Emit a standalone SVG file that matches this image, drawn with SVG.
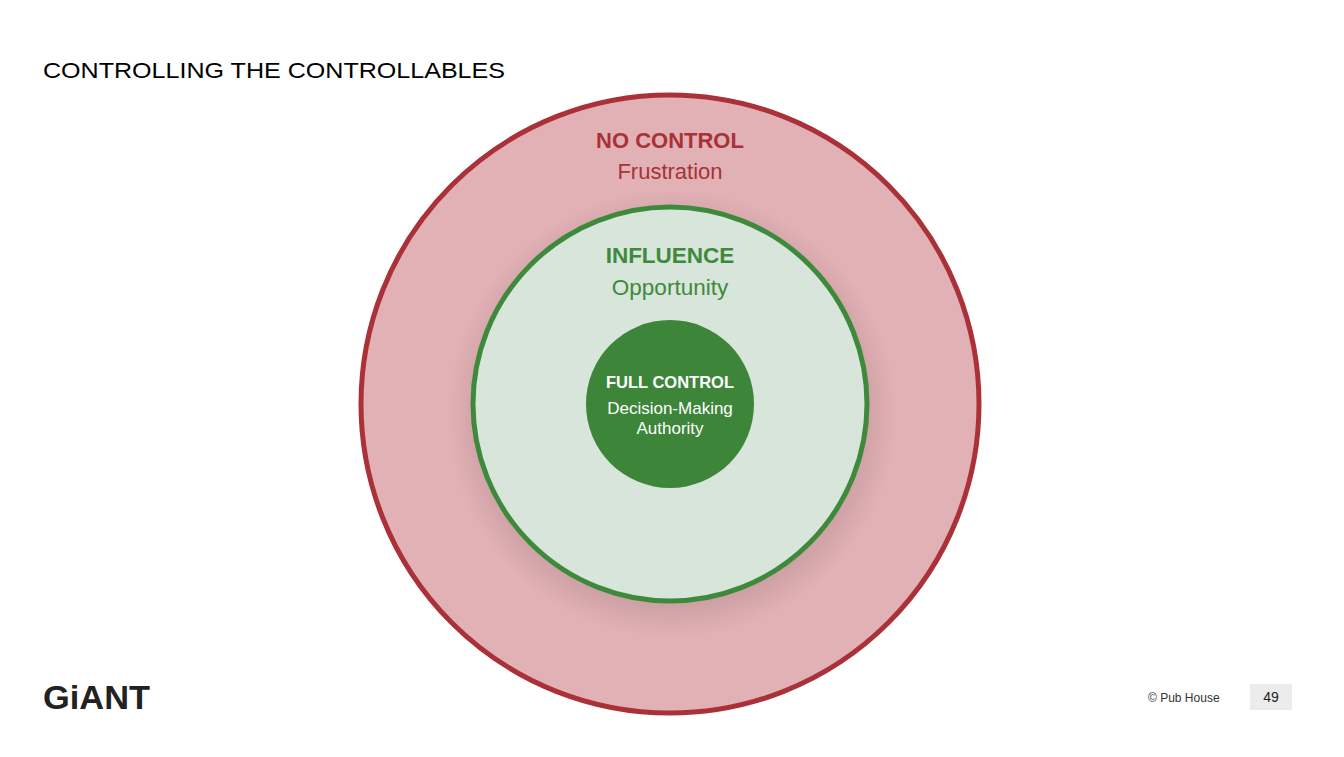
<svg xmlns="http://www.w3.org/2000/svg" width="1344" height="757" viewBox="0 0 1344 757">
<style>
text{font-family:"Liberation Sans",Arial,sans-serif}
.c{text-anchor:middle}
</style>
<defs>
<radialGradient id="sh" cx="0.5" cy="0.5" r="0.5">
<stop offset="0.8" stop-color="#000" stop-opacity="0.12"/>
<stop offset="1" stop-color="#000" stop-opacity="0"/>
</radialGradient>
</defs>
<rect width="1344" height="757" fill="#fff"/>
<text x="43" y="78" font-size="22" fill="#000" textLength="462" lengthAdjust="spacingAndGlyphs">CONTROLLING THE CONTROLLABLES</text>
<g id="no-control">
<circle cx="670" cy="404" r="309" fill="#e2b1b5" stroke="#aa3138" stroke-width="5"/>
<text class="c" x="670" y="148" font-size="22" font-weight="bold" fill="#a83238">NO CONTROL</text>
<text class="c" x="670" y="179" font-size="22" fill="#a83238">Frustration</text>
</g>
<circle cx="672" cy="414" r="225" fill="url(#sh)"/>
<g id="influence">
<circle cx="670" cy="404" r="197" fill="#d8e5da" stroke="#3e8a3c" stroke-width="5"/>
<text class="c" x="670" y="263" font-size="22.5" font-weight="bold" fill="#3e8a3c">INFLUENCE</text>
<text class="c" x="670" y="295" font-size="22.5" fill="#3e8a3c">Opportunity</text>
</g>
<g id="full-control">
<circle cx="670" cy="404" r="84" fill="#3d8538"/>
<text class="c" x="670" y="388" font-size="16.5" font-weight="bold" fill="#fff">FULL CONTROL</text>
<text class="c" x="670" y="414" font-size="17" fill="#fff">Decision-Making</text>
<text class="c" x="670" y="434" font-size="17" fill="#fff">Authority</text>
</g>
<text x="43" y="709" font-size="33" font-weight="bold" fill="#222" textLength="107" lengthAdjust="spacingAndGlyphs">GiANT</text>
<text x="1148" y="702" font-size="12" fill="#333">© Pub House</text>
<rect x="1250" y="684" width="42" height="26" fill="#ececec"/>
<text class="c" x="1271" y="702" font-size="14" fill="#222">49</text>
</svg>
